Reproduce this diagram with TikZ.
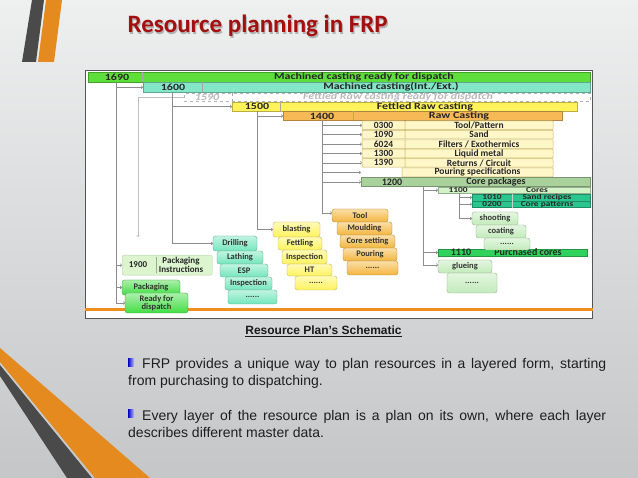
\documentclass[tikz,border=0pt]{standalone}
\usepackage{fontspec}
\setmainfont{Liberation Sans}
\newfontfamily\calfont{Carlito}
\newfontfamily\calwide[FakeStretch=1.25]{Carlito}
\usetikzlibrary{arrows.meta,calc}
\definecolor{bgTop}{HTML}{EEEFEF}
\definecolor{bgBot}{HTML}{C4C6C8}
\definecolor{stDark}{HTML}{4A4A4A}
\definecolor{stOr}{HTML}{E58A1E}
\definecolor{titleRed}{HTML}{A3100F}
\definecolor{frameC}{HTML}{555555}
\definecolor{lineOr}{HTML}{EE8F1F}
\definecolor{c1690}{HTML}{5EDE3A}
\definecolor{c1600}{HTML}{82E6C7}
\definecolor{c1500}{HTML}{FFF25A}
\definecolor{c1400}{HTML}{F6B956}
\definecolor{subF}{HTML}{FFF7C8}
\definecolor{subB}{HTML}{CDB86A}
\definecolor{c1200}{HTML}{A9D19B}
\definecolor{c1100}{HTML}{D3F3C6}
\definecolor{c1010}{HTML}{2BC58F}
\definecolor{c1110}{HTML}{2FD35C}
\definecolor{cOr}{HTML}{F4B63E}
\definecolor{cYe}{HTML}{FFF35E}
\definecolor{cTe}{HTML}{74E6BE}
\definecolor{cLg}{HTML}{C2EBBA}
\definecolor{cPk}{HTML}{44DD44}
\definecolor{c1900}{HTML}{DCF5CE}
\definecolor{lineC}{HTML}{8C8C8C}
\tikzset{
  barst/.style={anchor=north west, inner sep=0pt, outer sep=0pt, draw=#1!72!black, fill=#1, line width=0.4pt},
  rowtxt/.style={font=\calwide\bfseries\fontsize{9.6}{9.6}\selectfont, text=black!85, inner sep=0pt},
  subtxt/.style={font=\calfont\bfseries\fontsize{9.5}{9.5}\selectfont, text=black!85, inner sep=0pt},
  tinytxt/.style={font=\calwide\bfseries\fontsize{7.5}{7.5}\selectfont, text=black!85, inner sep=0pt},
  subcell/.style={anchor=north west, inner sep=0pt, outer sep=0pt, draw=subB, fill=subF, line width=0.5pt, rounded corners=0.6pt},
  stk/.style={anchor=north west, inner sep=0pt, outer sep=0pt, rounded corners=2.5pt, draw=#1!72!black, line width=0.3pt, top color=#1!45!white, bottom color=#1, font=\calfont\bfseries\fontsize{8.5}{8.5}\selectfont, text=black!80},
  conn/.style={draw=lineC, line width=0.55pt},
  arr/.style={conn, -{To[length=2pt,width=3.2pt]}},
  sepl/.style={draw=black!35, line width=0.4pt},
}
\newcommand\stkB[7]{\node[stk=#2, minimum width={#5pt-#3pt}, minimum height={#6pt-#4pt}] (#1) at (#3,#4) {#7};}
\newcommand\barB[6]{\node[barst=#2, minimum width=#5pt, minimum height=#6pt] (#1) at (#3,#4) {};}
\newcommand\subRow[4]{%
  \node[subcell, minimum width=43pt, minimum height=8.6pt] (#1c) at (362,#2) {};
  \node[subcell, minimum width=148pt, minimum height=8.6pt] (#1t) at (405,#2) {};
  \node[subtxt] (#1cl) at (#1c.center) {#3};
  \node[subtxt] (#1tl) at (#1t.center) {#4};}
\begin{document}
\begin{tikzpicture}[x=1pt,y=-1pt]
\useasboundingbox (0,0) rectangle (638,478);
% background
\fill[top color=bgTop, bottom color=bgBot] (0,0) rectangle (638,478);
% decorative stripes
\fill[stDark] (32,0) -- (44,0) -- (36,62) -- (22,62) -- cycle;
\fill[stOr] (46,0) -- (62,0) -- (54,62) -- (38,62) -- cycle;
\fill[stOr] (0,348) -- (150,478) -- (95,478) -- (0,362) -- cycle;
\fill[stDark] (0,365) -- (92,478) -- (67,478) -- (0,376) -- cycle;
% title
\node[anchor=base west, font=\calfont\bfseries\fontsize{25}{25}\selectfont, text=black!30] (titleSh) at (125.2,34.2) {Resource planning in FRP};
\node[anchor=base west, font=\calfont\bfseries\fontsize{25}{25}\selectfont, text=titleRed] (title) at (124,33) {Resource planning in FRP};
% frame
\node[anchor=north west, draw=frameC, fill=white, line width=0.9pt, minimum width=507pt, minimum height=248pt, inner sep=0pt] (frame) at (85,70) {};
\draw[lineOr, line width=3pt] ([yshift=-240pt]frame.north west) -- ([yshift=-240pt]frame.north east);
% main bars
\barB{n1690}{c1690}{88}{72}{502}{10}
\node[rowtxt] (l1690) at (117,77) {1690};
\draw[sepl] (142,72) -- (142,82);
\node[rowtxt] (t1690) at (364,77) {Machined casting ready for dispatch};
\barB{n1600}{c1600}{143}{82.5}{447}{9.5}
\node[rowtxt] (l1600) at (173,87.2) {1600};
\draw[sepl] (202,82.5) -- (202,92);
\node[rowtxt] (t1600) at (391,87.2) {Machined casting(Int./Ext.)};
\node[anchor=north west, inner sep=0pt, draw=black!30, dashed, line width=0.5pt, minimum width=406pt, minimum height=8.5pt] (n1590) at (184,93) {};
\node[rowtxt, text=black!28, font=\calwide\bfseries\itshape\fontsize{9.6}{9.6}\selectfont] (l1590) at (207,97.3) {1590};
\draw[sepl, dashed] (232,93) -- (232,101.5);
\node[rowtxt, text=black!28, font=\calwide\bfseries\itshape\fontsize{9.6}{9.6}\selectfont] (t1590) at (398,97.3) {Fettled Raw casting ready for dispatch};
\barB{n1500}{c1500}{232}{102}{345}{9.5}
\node[rowtxt] (l1500) at (257,106.8) {1500};
\draw[sepl] (280,102) -- (280,111.5);
\node[rowtxt] (t1500) at (425,106.8) {Fettled Raw casting};
\barB{n1400}{c1400}{283}{111.5}{279}{9}
\node[rowtxt] (l1400) at (322,116) {1400};
\draw[sepl] (353,111.5) -- (353,120.5);
\node[rowtxt] (t1400) at (459,116) {Raw Casting};
% sub rows
\subRow{r0300}{121}{0300}{Tool/Pattern}
\subRow{r1090}{130.4}{1090}{Sand}
\subRow{r6024}{139.8}{6024}{Filters / Exothermics}
\subRow{r1300}{149.2}{1300}{Liquid metal}
\subRow{r1390}{158.6}{1390}{Returns / Circuit}
\node[subcell, minimum width=151pt, minimum height=8.8pt] (rPour) at (402,168) {};
\node[subtxt] (rPourl) at (rPour.center) {Pouring specifications};
\coordinate (rPourIn) at (361,172.4);
% core bars
\barB{n1200}{c1200}{361}{177.5}{229}{9}
\node[rowtxt, font=\calfont\bfseries\fontsize{10}{10}\selectfont] (l1200) at (392,182) {1200};
\node[rowtxt, font=\calfont\bfseries\fontsize{10}{10}\selectfont] (t1200) at (496,182) {Core packages};
\barB{n1100}{c1100}{438}{187}{152}{6.5}
\node[tinytxt] (l1100) at (458,189.8) {1100};
\node[tinytxt] (t1100) at (537,189.8) {Cores};
\barB{n1010}{c1010}{472}{194}{118}{6.8}
\barB{n0200}{c1010}{472}{200.8}{118}{6.8}
\draw[sepl, draw=black!20] (512,194) -- (512,207.6);
\node[tinytxt] (l1010) at (492,197.4) {1010};
\node[tinytxt] (t1010) at (547,197.4) {Sand recipes};
\node[tinytxt] (l0200) at (492,204.2) {0200};
\node[tinytxt] (t0200) at (547,204.2) {Core patterns};
\barB{n1110}{c1110}{438}{249}{149}{7}
\node[rowtxt, font=\calfont\bfseries\fontsize{10}{10}\selectfont] (l1110) at (461,252.5) {1110};
\node[rowtxt, font=\calfont\bfseries\fontsize{10}{10}\selectfont] (t1110) at (528,252.5) {Purchased cores};
% 1900 box
\node[anchor=north west, inner sep=0pt, draw=c1900!85!black, fill=c1900, rounded corners=2pt, minimum width=90pt, minimum height=20pt] (n1900) at (122,255) {};
\draw[draw=c1900!70!black, line width=0.4pt] (156,257) -- (156,273);
\node[rowtxt, font=\calfont\bfseries\fontsize{9}{9}\selectfont] (l1900) at (138,265) {1900};
\node[rowtxt, font=\calfont\bfseries\fontsize{9}{9}\selectfont, align=center] (t1900) at (181,265) {Packaging\\[-0.5pt]Instructions};
% stacks
\stkB{sDrill}{cTe}{213}{236}{257}{251}{Drilling}
\stkB{sLath}{cTe}{217}{251}{263}{264}{Lathing}
\stkB{sESP}{cTe}{220}{264}{268}{277}{ESP}
\stkB{sInspT}{cTe}{225}{277}{272}{290}{Inspection}
\stkB{sTeDots}{cTe}{228}{290}{277}{304}{......}
\stkB{sBlast}{cYe}{273}{222}{320}{237}{blasting}
\stkB{sFett}{cYe}{278}{237}{322}{250}{Fettling}
\stkB{sInspY}{cYe}{282}{250}{327}{264}{Inspection}
\stkB{sHT}{cYe}{287}{264}{332}{276}{HT}
\stkB{sYeDots}{cYe}{295}{276}{337}{290}{......}
\stkB{sTool}{cOr}{332}{209}{388}{222}{Tool}
\stkB{sMould}{cOr}{337}{222}{392}{235}{Moulding}
\stkB{sCore}{cOr}{340}{235}{395}{248}{Core setting}
\stkB{sPour}{cOr}{343}{248}{397}{261}{Pouring}
\stkB{sOrDots}{cOr}{347}{261}{398}{275}{......}
\stkB{sShoot}{cLg}{472}{212}{518}{225}{shooting}
\stkB{sCoat}{cLg}{476}{225}{526}{238}{coating}
\stkB{sCoDots}{cLg}{484}{238}{530}{250}{......}
\stkB{sGlue}{cLg}{438}{260}{492}{273}{glueing}
\stkB{sGlDots}{cLg}{447}{273}{497}{293}{......}
\stkB{nPack}{cPk}{122}{280}{180}{295}{Packaging}
\node[stk=cPk, minimum width=63pt, minimum height=20pt, align=center] (nReady) at (125,293) {Ready for\\[-1pt]dispatch};
% connectors
\coordinate (v1690) at (116,82);
\coordinate (v1600) at (172,92);
\coordinate (v1500) at (257,111.5);
\coordinate (v1400) at (322,120.5);
\coordinate (v1200) at (423,186.5);
\coordinate (v1100) at (459,193.5);
\coordinate (e1590) at (138,237);
\draw[arr] (v1690) |- (n1600.west);
\draw[arr] (v1690) |- (n1900.west);
\draw[arr] (v1690) |- (nPack.west);
\draw[arr] (v1690) |- (nReady.west);
\draw[conn, draw=black!25, -{To[length=2pt,width=3.2pt]}] (n1590.west) -| (e1590);
\draw[arr] (v1600) |- (n1500.west);
\draw[arr] (v1600) |- (sDrill.west);
\draw[arr] (v1500) |- (n1400.west);
\draw[arr] (v1500) |- (sBlast.west);
\draw[arr] (v1400) |- (r0300c.west);
\draw[arr] (v1400) |- (r1090c.west);
\draw[arr] (v1400) |- (r6024c.west);
\draw[arr] (v1400) |- (r1300c.west);
\draw[arr] (v1400) |- (r1390c.west);
\draw[arr] (v1400) |- (rPourIn);
\draw[arr] (v1400) |- (n1200.west);
\draw[arr] (v1400) |- ([yshift=2.5pt]sTool.west);
\draw[arr] (v1200) |- (n1100.west);
\draw[arr] (v1200) |- (n1110.west);
\draw[arr] (v1200) |- ([yshift=1.5pt]sGlue.west);
\draw[arr] (v1100) |- (n1010.west);
\draw[arr] (v1100) |- (n0200.west);
\draw[arr] (v1100) |- (sShoot.west);
% caption
\node[anchor=base, font=\bfseries\fontsize{12}{12}\selectfont, text=black!90] (cap) at (323.5,334.5) {\underline{Resource Plan’s Schematic}};
% bullets and text
\fill[left color=blue!75!black, right color=blue!25!white] (128,359) rectangle (134,367);
\fill[left color=blue!75!black, right color=blue!25!white] (128,410) rectangle (134,418);
\node[anchor=north west, inner sep=0pt, text width=478pt, align=justify, font=\fontsize{14}{17}\selectfont, text=black!88] (p1) at (128,357.8) {\noindent\hspace*{14pt}FRP provides a unique way to plan resources in a layered form, starting\linebreak from purchasing to dispatching.};
\node[anchor=north west, inner sep=0pt, text width=478pt, align=justify, font=\fontsize{14}{17}\selectfont, text=black!88] (p2) at (128,409.8) {\noindent\hspace*{14pt}Every layer of the resource plan is a plan on its own, where each layer\linebreak describes different master data.};
\end{tikzpicture}
\end{document}
